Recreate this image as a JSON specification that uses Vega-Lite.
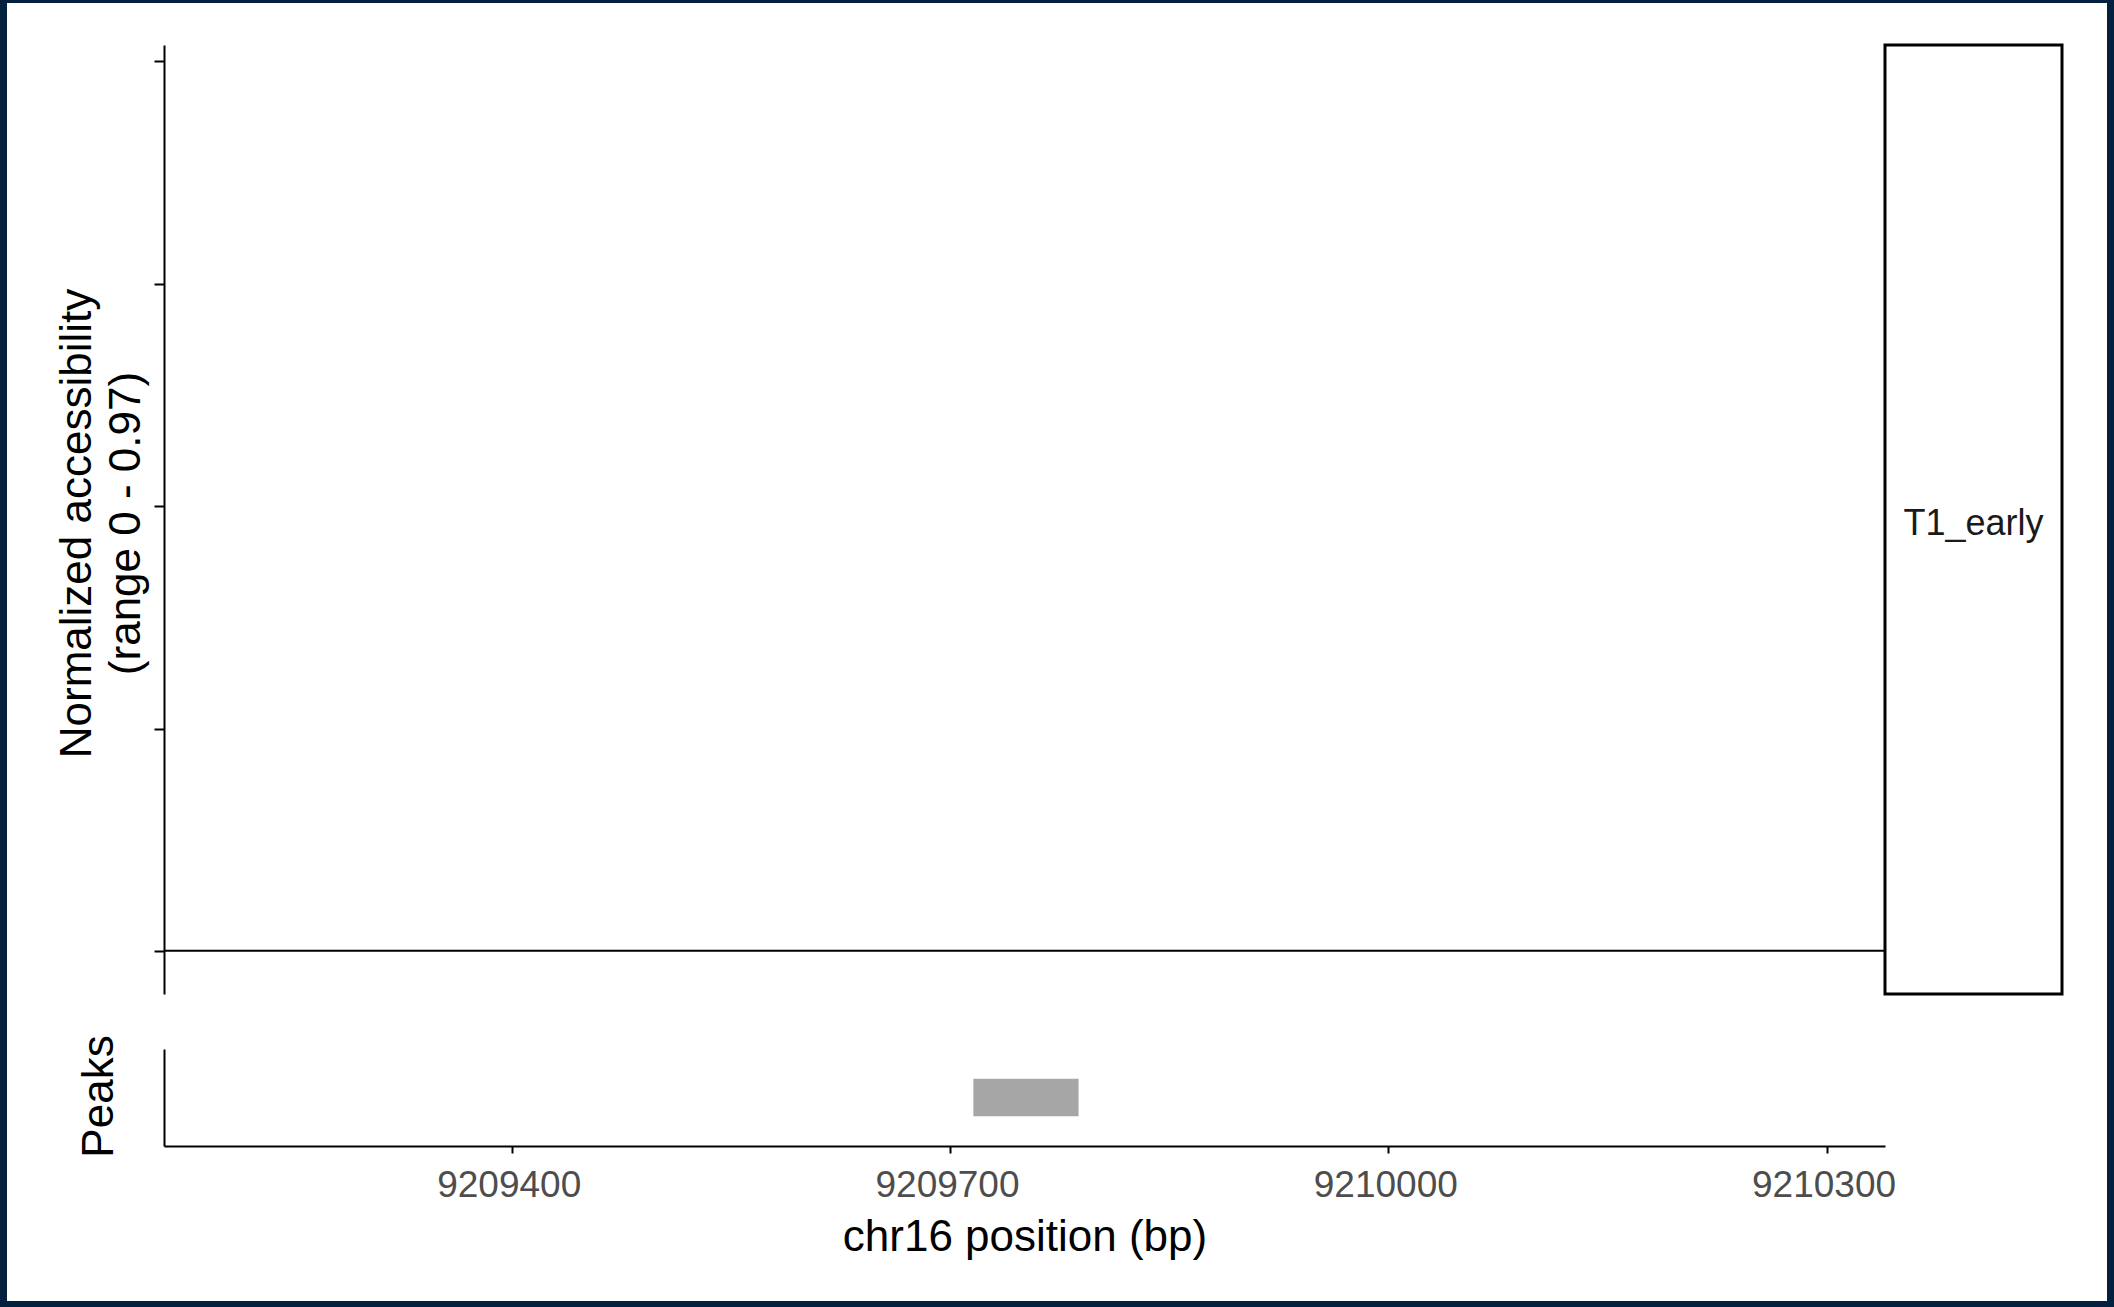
{
  "$schema": "https://vega.github.io/schema/vega-lite/v6.json",
  "background": "white",
  "padding": 0,
  "bounds": "flush",
  "spacing": 0,
  "datasets": {
    "coverage": [
      {"pos": 9209162, "value": 0, "group": "T1_early"},
      {"pos": 9209262, "value": 0, "group": "T1_early"},
      {"pos": 9209362, "value": 0, "group": "T1_early"},
      {"pos": 9209462, "value": 0, "group": "T1_early"},
      {"pos": 9209562, "value": 0, "group": "T1_early"},
      {"pos": 9209662, "value": 0, "group": "T1_early"},
      {"pos": 9209762, "value": 0, "group": "T1_early"},
      {"pos": 9209862, "value": 0, "group": "T1_early"},
      {"pos": 9209962, "value": 0, "group": "T1_early"},
      {"pos": 9210062, "value": 0, "group": "T1_early"},
      {"pos": 9210162, "value": 0, "group": "T1_early"},
      {"pos": 9210262, "value": 0, "group": "T1_early"},
      {"pos": 9210340, "value": 0, "group": "T1_early"}
    ],
    "peaks": [
      {"start": 9209716, "end": 9209788, "name": "chr16-9209716-9209788"}
    ],
    "groups": [
      {"group": "T1_early"}
    ]
  },
  "vconcat": [
    {"width": 2114, "height": 3, "data": {"name": "groups"}, "mark": {"type": "rect", "color": "#03213f"}, "encoding": {}},
    {
      "bounds": "flush",
      "spacing": 0,
      "hconcat": [
        {"width": 7, "height": 1304, "data": {"name": "groups"}, "mark": {"type": "rect", "color": "#03213f"}, "encoding": {}},
        {
          "columns": 5,
          "bounds": "flush",
          "align": "each",
          "spacing": 0,
          "concat": [
            {"width": 1, "height": 1, "data": {"name": "groups"}, "mark": {"type": "rect", "opacity": 0}, "encoding": {}},
            {"width": 1, "height": 1, "data": {"name": "groups"}, "mark": {"type": "rect", "opacity": 0}, "encoding": {}},
            {"width": 1, "height": 1, "data": {"name": "groups"}, "mark": {"type": "rect", "opacity": 0}, "encoding": {}},
            {"width": 1, "height": 1, "data": {"name": "groups"}, "mark": {"type": "rect", "opacity": 0}, "encoding": {}},
            {"width": 7, "height": 42, "data": {"name": "groups"}, "mark": {"type": "rect", "color": "#03213f"}, "encoding": {}},

            {"width": 1, "height": 1, "data": {"name": "groups"}, "mark": {"type": "rect", "opacity": 0}, "encoding": {}},
            {
              "width": 1721,
              "height": 949,
              "data": {"name": "coverage"},
              "mark": {"type": "line", "color": "black", "strokeWidth": 2},
              "encoding": {
                "x": {
                  "field": "pos",
                  "type": "quantitative",
                  "scale": {"domain": [9209162, 9210340], "nice": false, "zero": false},
                  "axis": null
                },
                "y": {
                  "field": "value",
                  "type": "quantitative",
                  "scale": {"domain": [-0.0485, 1.0185], "nice": false, "zero": false},
                  "axis": {
                    "values": [0, 0.25, 0.5, 0.75, 1],
                    "labels": false,
                    "tickSize": 10,
                    "tickWidth": 2,
                    "tickColor": "black",
                    "domainColor": "black",
                    "domainWidth": 2,
                    "grid": false,
                    "title": ["Normalized accessibility", "(range 0 - 0.97)"],
                    "titleFontSize": 44,
                    "titleFontWeight": "normal",
                    "titleColor": "black",
                    "titleX": -74,
                    "titleY": 478,
                    "titleBaseline": "alphabetic",
                    "titleLineHeight": 49
                  }
                }
              }
            },
            {
              "width": 177,
              "height": 949,
              "data": {"name": "groups"},
              "view": {"stroke": "black", "strokeWidth": 3},
              "mark": {"type": "text", "fontSize": 36, "color": "#1a1a1a", "dy": 4},
              "encoding": {
                "text": {"field": "group", "type": "nominal"}
              }
            },
            {"width": 1, "height": 1, "data": {"name": "groups"}, "mark": {"type": "rect", "opacity": 0}, "encoding": {}},
            {"width": 7, "height": 949, "data": {"name": "groups"}, "mark": {"type": "rect", "color": "#03213f"}, "encoding": {}},

            {"width": 1, "height": 1, "data": {"name": "groups"}, "mark": {"type": "rect", "opacity": 0}, "encoding": {}},
            {"width": 1, "height": 1, "data": {"name": "groups"}, "mark": {"type": "rect", "opacity": 0}, "encoding": {}},
            {"width": 1, "height": 1, "data": {"name": "groups"}, "mark": {"type": "rect", "opacity": 0}, "encoding": {}},
            {"width": 1, "height": 1, "data": {"name": "groups"}, "mark": {"type": "rect", "opacity": 0}, "encoding": {}},
            {"width": 7, "height": 55, "data": {"name": "groups"}, "mark": {"type": "rect", "color": "#03213f"}, "encoding": {}},

            {"width": 1, "height": 1, "data": {"name": "groups"}, "mark": {"type": "rect", "opacity": 0}, "encoding": {}},
            {
              "width": 1721,
              "height": 97,
              "data": {"name": "peaks"},
              "mark": {"type": "rect", "color": "#a6a6a6"},
              "encoding": {
                "x": {
                  "field": "start",
                  "type": "quantitative",
                  "scale": {"domain": [9209162, 9210340], "nice": false, "zero": false},
                  "axis": {
                    "values": [9209400, 9209700, 9210000, 9210300],
                    "format": "d",
                    "labelFontSize": 37,
                    "labelColor": "#4d4d4d",
                    "labelPadding": 14,
                    "labelOffset": -3,
                    "tickSize": 7,
                    "tickWidth": 2,
                    "tickColor": "black",
                    "domainColor": "black",
                    "domainWidth": 2,
                    "grid": false,
                    "title": "chr16 position (bp)",
                    "titleFontSize": 44,
                    "titleFontWeight": "normal",
                    "titleColor": "black",
                    "titleY": 104,
                    "titleBaseline": "alphabetic"
                  }
                },
                "x2": {"field": "end"},
                "y": {
                  "datum": -0.5,
                  "type": "quantitative",
                  "scale": {"domain": [-1.3, 1.3], "nice": false, "zero": false},
                  "axis": {
                    "labels": false,
                    "ticks": false,
                    "domainColor": "black",
                    "domainWidth": 2,
                    "grid": false,
                    "title": "Peaks",
                    "titleFontSize": 44,
                    "titleFontWeight": "normal",
                    "titleColor": "black",
                    "titleX": -52,
                    "titleY": 47,
                    "titleBaseline": "alphabetic"
                  }
                },
                "y2": {"datum": 0.5}
              }
            },
            {"width": 1, "height": 1, "data": {"name": "groups"}, "mark": {"type": "rect", "opacity": 0}, "encoding": {}},
            {"width": 1, "height": 1, "data": {"name": "groups"}, "mark": {"type": "rect", "opacity": 0}, "encoding": {}},
            {"width": 7, "height": 97, "data": {"name": "groups"}, "mark": {"type": "rect", "color": "#03213f"}, "encoding": {}},

            {"width": 1, "height": 1, "data": {"name": "groups"}, "mark": {"type": "rect", "opacity": 0}, "encoding": {}},
            {"width": 1, "height": 1, "data": {"name": "groups"}, "mark": {"type": "rect", "opacity": 0}, "encoding": {}},
            {"width": 1, "height": 1, "data": {"name": "groups"}, "mark": {"type": "rect", "opacity": 0}, "encoding": {}},
            {"width": 1, "height": 1, "data": {"name": "groups"}, "mark": {"type": "rect", "opacity": 0}, "encoding": {}},
            {"width": 7, "height": 155, "data": {"name": "groups"}, "mark": {"type": "rect", "color": "#03213f"}, "encoding": {}},

            {"width": 157, "height": 6, "data": {"name": "groups"}, "mark": {"type": "rect", "color": "#03213f"}, "encoding": {}},
            {"width": 1721, "height": 6, "data": {"name": "groups"}, "mark": {"type": "rect", "color": "#03213f"}, "encoding": {}},
            {"width": 177, "height": 6, "data": {"name": "groups"}, "mark": {"type": "rect", "color": "#03213f"}, "encoding": {}},
            {"width": 45, "height": 6, "data": {"name": "groups"}, "mark": {"type": "rect", "color": "#03213f"}, "encoding": {}},
            {"width": 7, "height": 6, "data": {"name": "groups"}, "mark": {"type": "rect", "color": "#03213f"}, "encoding": {}}
          ]
        }
      ]
    }
  ],
  "config": {
    "font": "Liberation Sans",
    "view": {"stroke": null}
  }
}
